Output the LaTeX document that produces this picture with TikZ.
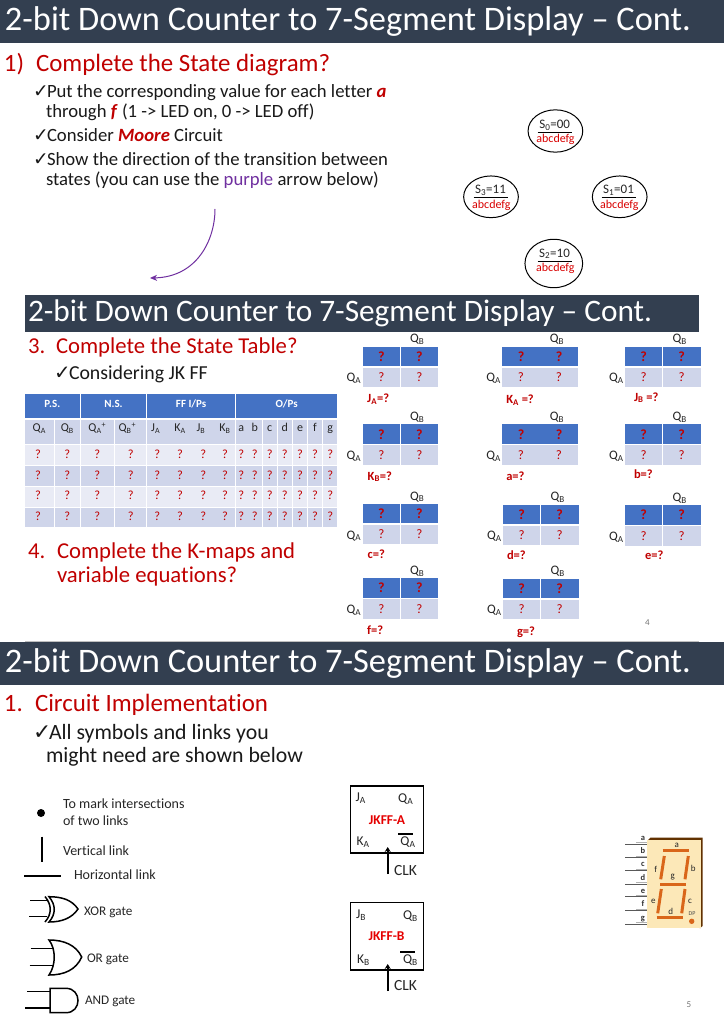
\documentclass[tikz,border=0pt]{standalone}
\usepackage{fontspec}
\setmainfont[Ligatures=NoCommon]{Carlito}
\newfontfamily\symfont{DejaVu Sans}
\definecolor{band}{HTML}{333F50}
\definecolor{redt}{HTML}{C00000}
\definecolor{blu}{HTML}{4472C4}
\definecolor{lite}{HTML}{CFD5EA}
\definecolor{pale}{HTML}{E9EBF5}
\definecolor{purp}{HTML}{7030A0}
\definecolor{org}{HTML}{D9661A}
\definecolor{dsp}{HTML}{FCE8B8}
\newcommand{\fsz}[1]{\fontsize{#1}{#1}\selectfont}
\newcommand{\chk}{{\symfont\char"2713}}
\newcommand{\sbs}[1]{\textsubscript{#1}}
\usetikzlibrary{shapes.geometric,arrows.meta}
\tikzset{
 every node/.style={inner sep=0pt,outer sep=0pt},
 title/.style={anchor=base west,text=white,font=\fsz{34.4},yshift=-1pt},
 head/.style={anchor=base west,text=redt,font=\fsz{22.7},yshift=-1pt},
 headb/.style={anchor=base west,text=redt,font=\fsz{24.9},yshift=-1pt},
 body/.style={anchor=base west,text=black!90,font=\fsz{18.7},yshift=-1pt},
 bodyb/.style={anchor=base west,text=black!90,font=\fsz{21.8}},
 state/.style={draw=black,line width=1pt,ellipse,fill=white},
 legend/.style={anchor=base west,font=\fsz{14},text=black!85,yshift=.7pt},
 gatel/.style={anchor=base west,font=\fsz{13.2},text=black!85},
 qm/.style={text=redt,font=\fsz{13}},
 qmb/.style={text=redt,font=\bfseries\fsz{14}},
 kl/.style={anchor=base west,text=redt,font=\bfseries\fsz{12.5}},
 ql/.style={text=black!85,font=\fsz{13},anchor=base},
 th/.style={text=white,font=\bfseries\fsz{11},anchor=base},
 tc/.style={text=black!85,font=\fsz{12},anchor=base},
 tq/.style={text=redt,font=\fsz{12.5}},
 wire/.style={line width=1.5pt,black},
 ff/.style={draw=black,line width=1.5pt},
 fft/.style={font=\fsz{13.5},text=black!85},
 ffn/.style={font=\bfseries\fsz{13.5},text=red!90!black},
 seg/.style={org,line width=3pt},
 segl/.style={font=\fsz{9},text=black!85},
}
\newcommand{\kmap}[5]{% x y labeldx labeldy label
 \begin{scope}[shift={(#1,#2)}]
 \fill[blu] (0,0) rectangle (37.3,19.3);
 \fill[blu] (38,0) rectangle (75.5,19.3);
 \fill[lite] (0,21) rectangle (37.3,40.3);
 \fill[lite] (38,21) rectangle (75.5,40.3);
 \node[qmb] at (18.7,9.9) {?};
 \node[qmb] at (56.7,9.9) {?};
 \node[qm] at (18.7,30.5) {?};
 \node[qm] at (56.7,30.5) {?};
 \node[ql] at (54.6,-4) {Q\sbs{B}};
 \node[ql] at (-8.7,35) {Q\sbs{A}};
 \node[kl] at (#3,#4) {#5};
 \end{scope}}
\newcommand{\stt}[9]{%
 \node[state,minimum width=#3pt,minimum height=#4pt] (#5) at (#1,#2) {};
 \draw[line width=1pt,black] (#7-17,#8) -- (#7+17,#8);
 \node[font=\fsz{13},text=black!85,anchor=base] at (#7,#8-4) {#6};
 \node[font=\fsz{12},text=red!85!black,anchor=base] at (#7+.8,#8+10.7) {#9};}
\begin{document}
\begin{tikzpicture}[x=1pt,y=-1pt]
\useasboundingbox (0,0) rectangle (724,1024);
\fill[white] (0,0) rectangle (724,1024);
% bands
\fill[band] (0,0) rectangle (724,43);
\fill[band] (25,295) rectangle (699,332);
\fill[black!25] (25,640.8) rectangle (699,642);
\fill[band] (0,642) rectangle (724,685);
\node[title] (t1) at (5,29.5) {2-bit Down Counter to 7-Segment Display – Cont.};
\node[title,font=\fsz{31.3}] (t2) at (28,320) {2-bit Down Counter to 7-Segment Display – Cont.};
\node[title] (t3) at (5,671.7) {2-bit Down Counter to 7-Segment Display – Cont.};
% section 1
\node[headb] (h1n) at (4,70.7) {1)};
\node[headb] (h1) at (36,70.7) {Complete the State diagram?};
\node[body] (b1) at (33,96.7) {\chk};
\node[body] (b1a) at (47,96.7) {Put the corresponding value for each letter \textcolor{redt}{\textbf{\textit{a}}}};
\node[body] (b1b) at (46,116.7) {through \textcolor{redt}{\textbf{\textit{f}}} (1 -> LED on, 0 -> LED off)};
\node[body] (b2) at (33,140.7) {\chk};
\node[body] (b2a) at (47,140.7) {Consider \textcolor{redt}{\textbf{\textit{Moore}}} Circuit};
\node[body] (b3) at (33,164.3) {\chk};
\node[body] (b3a) at (47,164.3) {Show the direction of the transition between};
\node[body] (b3b) at (46,185) {states (you can use the \textcolor{purp}{purple} arrow below)};
\coordinate (as) at (215,209);
\coordinate (ae) at (150,278);
\draw[purp,line width=1pt,-{Stealth[length=7pt,width=6pt,inset=2pt]}] (as) .. controls (215,240) and (197,277) .. (ae);
% states
\stt{555.4}{131}{54.7}{42.3}{s0}{S\sbs{0}=00}{554.7}{132.3}{abcdefg}
\stt{491}{196.8}{54.7}{41.7}{s3}{S\sbs{3}=11}{490.5}{198}{abcdefg}
\stt{619.7}{196.8}{54.7}{41.7}{s1}{S\sbs{1}=01}{618.5}{197.7}{abcdefg}
\stt{553.8}{263.5}{57.7}{48.4}{s2}{S\sbs{2}=10}{554.5}{261}{abcdefg}
% section 3
\node[head] (h3n) at (28,352.7) {3.};
\node[head] (h3) at (56,352.7) {Complete the State Table?};
\node[body,font=\fsz{19.8}] (c1) at (54,378.3) {\chk};
\node[body,font=\fsz{19.8}] (c1a) at (69,378.3) {Considering JK FF};
\node[head] (h4n) at (28,557.3) {4.};
\node[head] (h4a) at (57,557.3) {Complete the K-maps and};
\node[head] (h4b) at (57,581.7) {variable equations?};
% table
\foreach \a/\b/\t in {25/79.7/{P.S.},80.7/146.3/{N.S.},147.3/235/{FF I/Ps},236/337.3/{O/Ps}}{
 \fill[blu] (\a,394) rectangle (\b,418.3);
 \node[th] at ({(\a+\b)/2},407) {\t};
}
\foreach \ya/\yb/\c in {420/444/lite,445/465.3/pale,466/486/lite,486.9/506.7/pale,507.5/527/lite}{
 \foreach \a/\b in {25/54,54.7/80,80.7/114.4,115/146.3,147.3/168.7,169.3/191.7,192.3/214.7,215.3/235,236/247.7,248.3/262,262.6/277,277.6/292.4,293/307.4,308/322,322.6/337.3}{
  \fill[\c] (\a,\ya) rectangle (\b,\yb);
 }
}
\foreach \x/\t in {39.3/{Q\sbs{A}},67.3/{Q\sbs{B}},97.3/{Q\sbs{A}\textsuperscript{+}},127.3/{Q\sbs{B}\textsuperscript{+}},155.7/{J\sbs{A}},180/{K\sbs{A}},201/{J\sbs{B}},225/{K\sbs{B}},241.3/a,254.7/b,269.7/c,284.7/d,300/e,315/f,330.3/g}{
 \node[tc] at (\x,431.5) {\t};
}
\foreach \x in {38,67.3,97.3,130.7,157.3,180,203.3,225,241.3,254.7,269.7,284.7,300,315,330.3}{
 \foreach \y in {454,475,495.7,516}{
  \node[tq] at (\x,\y) {?};
 }
}
% kmaps
\kmap{362.7}{346.7}{4.5}{56}{J\sbs{A}=?}
\kmap{502.3}{346.7}{4}{57}{K\sbs{A} =?}
\kmap{625}{346.7}{9}{54.3}{J\sbs{B} =?}
\kmap{362.7}{424.4}{5}{55.6}{K\sbs{B}=?}
\kmap{502.3}{424.4}{4}{56.3}{a=?}
\kmap{625}{424.4}{9}{54.3}{b=?}
\kmap{362.7}{504}{5}{54.3}{c=?}
\kmap{503}{504.7}{4}{55}{d=?}
\kmap{625}{505.3}{20}{54.4}{e=?}
\kmap{362.7}{578.3}{4.5}{55.7}{f=?}
\kmap{503}{578.7}{14}{56.3}{g=?}
\node[font=\fsz{9},text=black!55] (p4) at (647.5,623) {4};
% section circuit
\node[headb] (h5n) at (4,710) {1.};
\node[headb] (h5) at (35,710) {Circuit Implementation};
\node[bodyb] (d1) at (33,739) {\chk};
\node[bodyb] (d1a) at (49,739) {All symbols and links you};
\node[bodyb] (d1b) at (46,762.3) {might need are shown below};
% legend
\fill[black] (41,813) circle (4pt);
\node[legend] (l1) at (63,809.3) {To mark intersections};
\node[legend] (l2) at (63,825.7) {of two links};
\draw[line width=1.7pt] (41.7,836.7) -- (41.7,861.7);
\node[legend] (l3) at (63,856) {Vertical link};
\draw[line width=1.5pt] (24,876) -- (61,876);
\node[legend] (l4) at (74,880) {Horizontal link};
% XOR
\draw[wire] (30,900.7) -- (47,900.7) (29,916.7) -- (47,916.7);
\draw[wire] (45,896.5) .. controls (52,905) and (52,914) .. (45,922);
\draw[wire] (49,896.7) .. controls (56,905) and (56,914) .. (49,922)
 .. controls (62,922) and (72,918) .. (78,909) .. controls (72,900) and (62,896.7) .. (49,896.7) -- cycle;
\node[gatel] (l5) at (84,915) {XOR gate};
% OR
\draw[wire] (30.5,948.3) -- (54,948.3) (29.5,965.7) -- (54,965.7);
\draw[wire] (49,940) .. controls (56,949) and (56,965) .. (49,975)
 .. controls (64,975) and (76,970) .. (81.7,957) .. controls (76,945) and (64,940) .. (49,940) -- cycle;
\node[gatel] (l6) at (87,962) {OR gate};
% AND
\draw[wire] (27,991.3) -- (50,991.3) (25,1008) -- (50,1008);
\draw[wire] (50,988.3) -- (66,988.3) .. controls (82,988.3) and (82,1012.7) .. (66,1012.7) -- (50,1012.7) -- cycle;
\node[gatel] (l7) at (85,1004.3) {AND gate};
% FF A
\draw[ff] (350.7,786) rectangle (423.3,853);
\node[fft] (ja) at (360.7,798) {J\sbs{A}};
\node[fft] (qa) at (405.7,799) {Q\sbs{A}};
\node[ffn] (fa) at (387,820) {JKFF-A};
\node[fft] (ka) at (363,842) {K\sbs{A}};
\node[fft] (qab) at (408,842) {Q\sbs{A}};
\draw[line width=1.2pt] (398,834) -- (413,834);
\coordinate (ca) at (387.7,874);
\coordinate (cat) at (387.7,847);
\draw[line width=1.8pt,-{Stealth[length=5pt,width=6pt]}] (ca) -- (cat);
\node[font=\fsz{15.5},text=black!85,anchor=base west] (cka) at (394,875.5) {CLK};
% FF B
\draw[ff] (350.7,902.3) rectangle (423.3,970);
\node[fft] (jb) at (361,915) {J\sbs{B}};
\node[fft] (qb) at (410.5,916) {Q\sbs{B}};
\node[ffn] (fb) at (386.5,936.5) {JKFF-B};
\node[fft] (kb) at (363.5,960) {K\sbs{B}};
\node[fft] (qbb) at (410.5,960.5) {Q\sbs{B}};
\draw[line width=1.2pt] (400,952) -- (415,952);
\coordinate (cb) at (387.7,991);
\coordinate (cbt) at (387.7,964);
\draw[line width=1.8pt,-{Stealth[length=5pt,width=6pt]}] (cb) -- (cbt);
\node[font=\fsz{15.5},text=black!85,anchor=base west] (ckb) at (394,990) {CLK};
% 7 seg
\fill[black!45!orange!70!black] (648,840) -- (650.5,837.5) -- (702.5,837.5) -- (702.5,926) -- (700,928.3) -- cycle;
\fill[dsp] (647.3,840) rectangle (700.5,928.3);
\foreach \y/\ty/\t in {844/838.3/a,857.3/851/b,870.7/864/c,884/877.7/d,896.7/891.7/e,910.7/904/f,924/919.3/g}{
 \draw[black!65,line width=1pt] (625,\y) -- (647,\y);
 \draw[black!30,line width=.7pt] (636,\y-1.3) -- (647,\y-1.3);
 \node[font=\bfseries\fsz{8.5},text=black!80] at (643,\ty) {\t};
}
\draw[seg] (662.7,850.7) -- (689.3,850.7);
\draw[seg] (664.3,856) -- (660.7,879.3);
\draw[seg] (688.3,856) -- (685,879.3);
\draw[seg] (660,884.3) -- (685.7,884.3);
\draw[seg] (661.3,889) -- (657.7,913.3);
\draw[seg] (685,889) -- (681.7,913.3);
\draw[seg] (656.7,917.7) -- (682.7,917.7);
\fill[org] (691.7,921.3) circle (2.7pt);
\foreach \x/\y/\t in {676.7/845/a,693.3/868.3/b,655.7/869/f,672.7/877.3/g,653.3/901/e,690/901/c,670.7/911/d}{
 \node[segl] at (\x,\y) {\t};
}
\node[font=\fsz{6},text=black!70] (dp) at (692,913.5) {DP};
\node[font=\fsz{9},text=black!55] (p5) at (689,1005) {5};
\end{tikzpicture}
\end{document}
